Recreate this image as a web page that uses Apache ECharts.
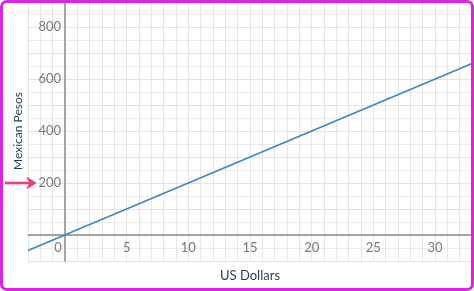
<!DOCTYPE html>
<html>
<head>
<meta charset="utf-8">
<script src="https://cdn.jsdelivr.net/npm/echarts@6/dist/echarts.min.js"></script>
<style>
  html, body { margin: 0; padding: 0; background: #fff; }
  #wrap { position: relative; width: 474px; height: 291px; }
  #chart { width: 474px; height: 291px; }
  #frame { position: absolute; left: 0; top: 0; width: 474px; height: 291px; box-sizing: border-box;
           border: 3px solid #dc22e2; border-radius: 7px; pointer-events: none; }
</style>
</head>
<body>
<div id="wrap"><div id="chart"></div><div id="frame"></div></div>
<script>
// Data
const usDollars = [-3, 33];
const mexicanPesos = [-60, 660];
const xTickLabels = [0, 5, 10, 15, 20, 25, 30];
const yTickLabels = [200, 400, 600, 800];
const highlightedPesos = 200;
const xAxisName = 'US Dollars';
const yAxisName = 'Mexican Pesos';

const chart = echarts.init(document.getElementById('chart'));
const font = 'Lato, "Open Sans", sans-serif';

const option = {
  animation: false,
  grid: { left: 28, right: 2, top: 1, bottom: 30, containLabel: false, outerBoundsMode: 'none' },
  xAxis: {
    type: 'value', min: -3, max: 33, interval: 1,
    name: xAxisName, nameLocation: 'middle', nameGap: 8, nameMoveOverlap: false,
    nameTextStyle: { color: '#2b3d55', fontSize: 13, fontFamily: font },
    axisLine: { show: true, onZero: true, lineStyle: { color: '#8a8a8a', width: 1.5 } },
    axisTick: { show: false },
    axisLabel: {
      color: '#777', fontSize: 13, fontFamily: font, margin: -20,
      showMinLabel: true, showMaxLabel: true,
      formatter: v => {
        if (v === 0) return '{z|0}';
        return xTickLabels.includes(v) ? String(v) : '';
      },
      rich: { z: { color: '#777', fontSize: 13, fontFamily: font, padding: [0, 14, 0, 0] } }
    },
    splitLine: { show: true, lineStyle: { color: '#e6e6e6', width: 1 } }
  },
  yAxis: {
    type: 'value', min: -100, max: 900, interval: 100,
    name: yAxisName, nameLocation: 'middle', nameGap: 4, nameRotate: 90, nameMoveOverlap: false,
    nameTextStyle: { color: '#2b3d55', fontSize: 12, fontFamily: font },
    axisLine: { show: true, onZero: true, lineStyle: { color: '#8a8a8a', width: 1.5 } },
    axisTick: { show: false },
    axisLabel: {
      color: '#777', fontSize: 13, fontFamily: font, margin: -33,
      formatter: v => yTickLabels.includes(v) ? String(v) : ''
    },
    splitLine: { show: true, lineStyle: { color: '#e3e3e3', width: 1 } },
    minorTick: { show: false, splitNumber: 2 },
    minorSplitLine: { show: true, lineStyle: { color: '#ececec', width: 1 } }
  },
  series: [{
    type: 'line',
    data: usDollars.map((x, i) => [x, mexicanPesos[i]]),
    showSymbol: false,
    lineStyle: { color: '#3b86c6', width: 1.6 },
    z: 5
  }]
};
chart.setOption(option);

// Pink arrow pointing at the 200 label
const p = chart.convertToPixel({ gridIndex: 0 }, [0, highlightedPesos]);
const tipX = p[0] - 29, y = p[1];
chart.setOption({
  graphic: [{
    type: 'group', z: 100,
    children: [
      { type: 'line', shape: { x1: 5, y1: y, x2: tipX - 3, y2: y },
        style: { stroke: '#ec3f7f', lineWidth: 2.6 } },
      { type: 'polygon', shape: { points: [[tipX, y], [tipX - 9, y - 5.5], [tipX - 6, y], [tipX - 9, y + 5.5]] },
        style: { fill: '#ec3f7f', stroke: '#ec3f7f', lineWidth: 1 } }
    ]
  }]
});
</script>
</body>
</html>
